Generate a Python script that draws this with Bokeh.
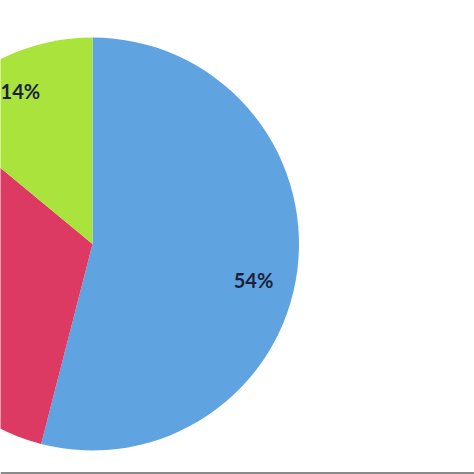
import math
from bokeh.plotting import figure
from bokeh.models import Range1d, ColumnDataSource, Span
from bokeh.core.properties import value
from bokeh.embed import file_html
from bokeh.resources import INLINE

shares = [54, 32, 14]
labels = ["54%", "", "14%"]   # the 32% label lies outside the visible crop
colors = ["#5fa4e0", "#dc3a62", "#aae33c"]
# label nudges (pixels, y up) relative to the mid-angle position
nudge_x = [-7, 0, 0]
nudge_y = [-15, 0, 0]

W = H = 474
p = figure(width=W, height=H, output_backend="svg", toolbar_location=None,
           x_range=Range1d(0, 474), y_range=Range1d(0, 474),
           min_border=0)
p.axis.visible = False
p.grid.visible = False
p.outline_line_color = None
p.background_fill_color = "white"

cx, cy, r = 92, 474 - 243.5, 206.5
total = sum(shares)
starts, ends, lx, ly = [], [], [], []
acc = 0.0
for i, s in enumerate(shares):
    a0 = math.pi / 2 - 2 * math.pi * acc / total
    a1 = math.pi / 2 - 2 * math.pi * (acc + s) / total
    starts.append(a0)
    ends.append(a1)
    mid = (a0 + a1) / 2
    lx.append(cx + 0.82 * r * math.cos(mid) + nudge_x[i])
    ly.append(cy + 0.82 * r * math.sin(mid) + nudge_y[i])
    acc += s

src = ColumnDataSource(dict(start=starts, end=ends, color=colors, lx=lx, ly=ly, label=labels))
p.wedge(x=cx, y=cy, radius=r, start_angle="start", end_angle="end", direction="clock",
        fill_color="color", line_color=None, source=src)
p.text(x="lx", y="ly", text="label", source=src, text_align="center", text_baseline="middle",
       text_font=value("Lato"), text_font_style="bold", text_font_size="20px",
       text_color="#1b1f3c")

p.add_layout(Span(location=1, dimension="width", line_color="#8a8a8a", line_width=3))

open("out.html", "w").write(file_html(p, INLINE))
